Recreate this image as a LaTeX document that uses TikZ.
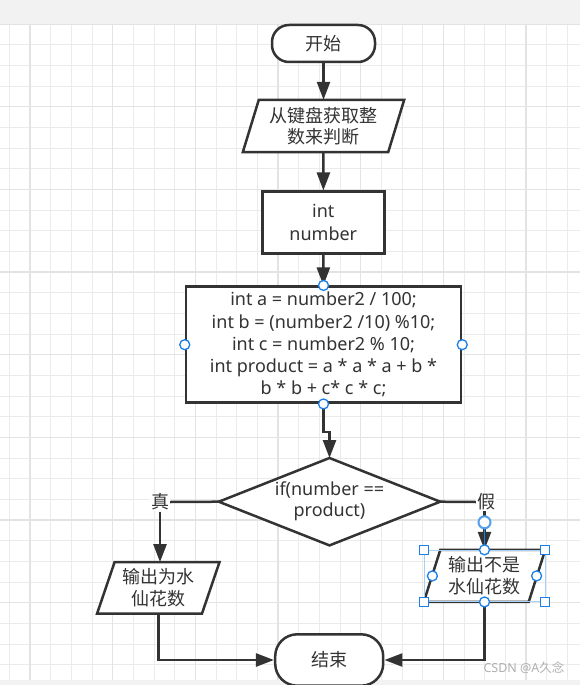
\documentclass[tikz,border=0pt]{standalone}
\usepackage{fontspec}
\setmainfont{Noto Sans}
\newfontfamily\cjk{Noto Sans CJK SC}
\usetikzlibrary{arrows.meta,calc}
\pgfdeclarelayer{gridlayer}
\pgfdeclarelayer{shapelayer}
\pgfsetlayers{gridlayer,shapelayer,main}
\definecolor{ink}{HTML}{333333}
\definecolor{txt}{HTML}{333333}
\definecolor{gridminor}{HTML}{EBEBEB}
\definecolor{gridmajor}{HTML}{E3E3E3}
\definecolor{band}{HTML}{F2F2F2}
\definecolor{handle}{HTML}{1A7FE6}
\definecolor{selbox}{HTML}{A8CFF5}
\definecolor{wm}{HTML}{B0B0B0}
\tikzset{
  shapebox/.style={draw=ink, fill=white, line width=2.5pt, rectangle, inner sep=0pt,
    align=center, text=txt, font=\fontsize{18}{22.3}\selectfont},
  term/.style={shapebox, font=\fontsize{18}{22}\selectfont\cjk},
  iobox/.style={rectangle, inner sep=0pt, align=center, text=txt,
    font=\fontsize{18}{21.7}\selectfont\cjk},
  iofill/.style={draw=ink, fill=white, line width=2.5pt, line join=miter},
  flow/.style={draw=ink, line width=2.5pt, -{Triangle[length=18pt,width=13pt]}},
  plainline/.style={draw=ink, line width=2.5pt},
  branchlabel/.style={inner sep=1pt, fill=white, text=txt, font=\fontsize{18}{22}\selectfont\cjk},
  circhandle/.style={circle, draw=handle, fill=white, line width=1.3pt, minimum size=10pt, inner sep=0pt},
  sqhandle/.style={rectangle, draw=handle, fill=white, line width=1.3pt, minimum size=9pt, inner sep=0pt},
  gridminorline/.style={draw=gridminor, line width=1pt},
  gridmajorline/.style={draw=gridmajor, line width=1.2pt},
}
\begin{document}
\begin{tikzpicture}[x=1pt,y=-1pt]
\useasboundingbox (0,0) rectangle (580,685);
\clip (0,0) rectangle (580,685);
% background grid
\begin{pgfonlayer}{gridlayer}
  \fill[white] (0,0) rectangle (580,685);
  \foreach \i in {0,...,28}{\draw[gridminorline] ({9.333+20.667*\i},24) -- ({9.333+20.667*\i},680);}
  \foreach \j in {0,...,32}{\draw[gridminorline] (0,{24+20.667*\j}) -- (580,{24+20.667*\j});}
  \foreach \i in {0,...,6}{\draw[gridmajorline] ({30+82.667*\i},24) -- ({30+82.667*\i},680);}
  \foreach \j in {0,...,8}{\draw[gridmajorline] (0,{24+82.667*\j}) -- (580,{24+82.667*\j});}
  \fill[band] (0,0) rectangle (580,24);
  \fill[band] (0,680) rectangle (580,685);
\end{pgfonlayer}

% nodes
\node[term, rounded corners=17pt, minimum width=103pt, minimum height=37pt] (start) at (323.5,43.5) {开始};
\node[iobox, minimum width=161pt, minimum height=52pt] (in1) at (323.5,126) {从键盘获取整\\数来判断};
\node[shapebox, minimum width=122pt, minimum height=61.6pt] (decl) at (323.3,222.5) {int\\number};
\node[shapebox, minimum width=275pt, minimum height=116pt] (calc) at (323.5,344.7)
  {int a = number2 / 100;\\int b = (number2 /10) \%10;\\int c = number2 \% 10;\\int product = a * a * a + b *\\b * b + c* c * c;};
\node[rectangle, inner sep=0pt, minimum width=221pt, minimum height=87pt, align=center, text=txt,
  font=\fontsize{18}{21}\selectfont] (dia) at (329.5,501.7) {if(number ==\\product)};
\node[branchlabel] (tl) at (160,502) {真};
\node[branchlabel] (fl) at (486,502) {假};
\node[iobox, minimum width=122pt, minimum height=51pt] (lp) at (158.3,587.8) {输出为水\\仙花数};
\node[iobox, minimum width=121pt, minimum height=51.7pt] (rp) at (484.5,575.9) {输出不是\\水仙花数};
\node[term, rounded corners=22pt, minimum width=108pt, minimum height=51.4pt] (endt) at (329.2,660) {结束};

% outlines of input/output and decision shapes
\begin{pgfonlayer}{shapelayer}
  \filldraw[iofill] ([xshift=16pt]in1.north west) -- (in1.north east) -- ([xshift=-16pt]in1.south east) -- (in1.south west) -- cycle;
  \filldraw[iofill] ([xshift=17.5pt]lp.north west) -- (lp.north east) -- ([xshift=-17.5pt]lp.south east) -- (lp.south west) -- cycle;
  \filldraw[iofill] ([xshift=16.5pt]rp.north west) -- (rp.north east) -- ([xshift=-16.5pt]rp.south east) -- (rp.south west) -- cycle;
  \filldraw[iofill] (dia.north) -- (dia.east) -- (dia.south) -- (dia.west) -- cycle;
\end{pgfonlayer}

% connectors
\draw[flow] (start) -- (in1);
\draw[flow] (in1) -- (decl);
\draw[flow] (decl) -- (calc);
\coordinate (jog) at ($(calc.south)+(0,28)$);
\draw[flow] (calc.south) -- (jog) -| (dia.north);
\draw[plainline] (dia.west) -- (tl.east);
\draw[flow] (tl.south) -- (tl.south |- lp.north);
\draw[plainline] (dia.east) -- (fl.west);
\draw[flow] (fl.south -| rp.north) -- (rp.north);
\draw[flow] (lp.south) |- (endt.west);
\draw[flow] (rp.south) |- (endt.east);

% editor selection handles
\draw[handle, line width=1.5pt] (484.5,528) -- (rp.north);
\node[circle, draw=handle!75, fill=white, line width=2pt, minimum size=12pt, inner sep=0pt] (hook) at (484.5,522.3) {};
\draw[selbox, line width=1pt] (424.3,550) rectangle (545,601.7);
\node[sqhandle] (sq1) at (424.3,550) {};
\node[sqhandle] (sq2) at (545,550) {};
\node[sqhandle] (sq3) at (424.3,601.7) {};
\node[sqhandle] (sq4) at (545,601.7) {};
\node[circhandle] (rh1) at (rp.north) {};
\node[circhandle] (rh2) at (rp.south) {};
\node[circhandle] (rh3) at (432.4,575.9) {};
\node[circhandle] (rh4) at (536.6,575.9) {};
\node[circhandle] (ch1) at (calc.north) {};
\node[circhandle] (ch2) at (calc.south) {};
\node[circhandle] (ch3) at (calc.west) {};
\node[circhandle] (ch4) at (calc.east) {};

% watermark
\node[text=wm, inner sep=0pt, font=\fontsize{12.5}{14}\selectfont] (wmark) at (524,668) {CSDN @A{\cjk 久念}};
\end{tikzpicture}
\end{document}
